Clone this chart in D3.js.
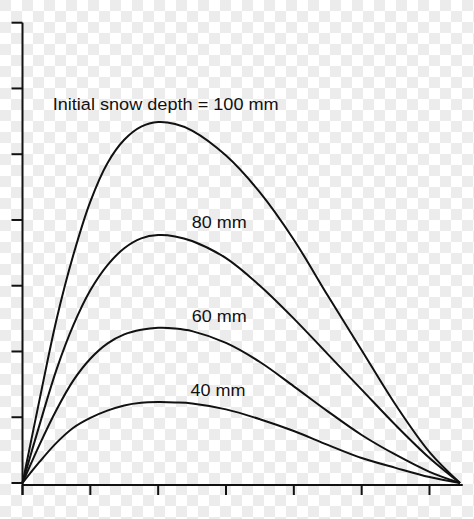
<!DOCTYPE html>
<html>
<head>
<meta charset="utf-8">
<script src="https://cdn.jsdelivr.net/npm/d3@7"></script>
<style>
  html, body { margin: 0; padding: 0; background: #ffffff; }
  svg { display: block; }
</style>
</head>
<body>
<script>
// ---- data (x in time units, y in arbitrary units) ----
const xValues = [0, 0.25, 0.5, 0.75, 1, 1.25, 1.5, 1.75, 2, 2.25, 2.5, 3, 3.5, 4, 4.5, 5, 5.5, 6, 6.45];
const depth100 = [0, 1.26, 2.48, 3.47, 4.28, 4.86, 5.22, 5.42, 5.49, 5.46, 5.36, 4.98, 4.42, 3.70, 2.85, 2.02, 1.19, 0.47, 0];
const depth80  = [0, 0.88, 1.72, 2.40, 2.93, 3.31, 3.57, 3.72, 3.77, 3.75, 3.68, 3.42, 3.00, 2.50, 1.96, 1.42, 0.88, 0.38, 0];
const depth60  = [0, 0.58, 1.11, 1.56, 1.89, 2.12, 2.26, 2.33, 2.36, 2.35, 2.31, 2.13, 1.84, 1.47, 1.09, 0.73, 0.43, 0.17, 0];
const depth40  = [0, 0.32, 0.61, 0.84, 0.99, 1.10, 1.18, 1.22, 1.23, 1.225, 1.21, 1.12, 0.97, 0.79, 0.58, 0.38, 0.23, 0.09, 0];
const seriesLabels = ["Initial snow depth = 100 mm", "80 mm", "60 mm", "40 mm"];
const xTicks = [0, 1, 2, 3, 4, 5, 6];
const yTicks = [0, 1, 2, 3, 4, 5, 6, 7];

const W = 474, H = 519;
const svg = d3.select("body").append("svg").attr("width", W).attr("height", H);

// checkered background
const defs = svg.append("defs");
const pat = defs.append("pattern").attr("id", "chk")
  .attr("width", 22).attr("height", 22).attr("patternUnits", "userSpaceOnUse")
  .attr("x", 0).attr("y", 0);
pat.append("rect").attr("width", 22).attr("height", 22).attr("fill", "#ffffff");
pat.append("rect").attr("width", 11).attr("height", 11).attr("fill", "#ececec");
pat.append("rect").attr("x", 11).attr("y", 11).attr("width", 11).attr("height", 11).attr("fill", "#ececec");
svg.append("rect").attr("width", W).attr("height", H).attr("fill", "url(#chk)");

const x = d3.scaleLinear().domain([0, 6]).range([22.5, 429.5]);
const y = d3.scaleLinear().domain([0, 7]).range([483, 22.7]);
const xEnd = 6.49;

const g = svg.append("g");
const ink = "#111";

// y axis
g.append("line").attr("x1", x(0)).attr("x2", x(0)).attr("y1", y(7)).attr("y2", y(0) + 12)
  .attr("stroke", ink).attr("stroke-width", 2);
g.selectAll(".yt").data(yTicks).join("line")
  .attr("x1", x(0) - 11).attr("x2", x(0)).attr("y1", d => y(d)).attr("y2", d => y(d))
  .attr("stroke", ink).attr("stroke-width", 2);

// x axis
const xAxisY = y(0) + 2;
g.append("line").attr("x1", x(0)).attr("x2", x(xEnd)).attr("y1", xAxisY).attr("y2", xAxisY)
  .attr("stroke", ink).attr("stroke-width", 2);
g.selectAll(".xt").data(xTicks).join("line")
  .attr("x1", d => x(d)).attr("x2", d => x(d)).attr("y1", xAxisY).attr("y2", xAxisY + 10)
  .attr("stroke", ink).attr("stroke-width", 2);

// curves
const line = d3.line().x(d => x(d[0])).y(d => y(d[1])).curve(d3.curveCatmullRom.alpha(0.5));
const allSeries = [depth100, depth80, depth60, depth40];
g.selectAll(".curve").data(allSeries).join("path")
  .attr("d", s => line(xValues.map((xv, i) => [xv, s[i]])))
  .attr("fill", "none").attr("stroke", ink).attr("stroke-width", 2);

// labels
const labelPos = [
  {x: 52.7, y: 110, len: 226},
  {x: 191.7, y: 228.3, len: 55},
  {x: 191.7, y: 322, len: 55},
  {x: 190.5, y: 396, len: 55}
];
g.selectAll(".lab").data(seriesLabels).join("text")
  .attr("x", (d, i) => labelPos[i].x).attr("y", (d, i) => labelPos[i].y)
  .attr("textLength", (d, i) => labelPos[i].len).attr("lengthAdjust", "spacingAndGlyphs")
  .attr("font-family", "'Liberation Sans', Arial, Helvetica, sans-serif")
  .attr("font-size", 16.3).attr("fill", ink)
  .text(d => d);
</script>
</body>
</html>
